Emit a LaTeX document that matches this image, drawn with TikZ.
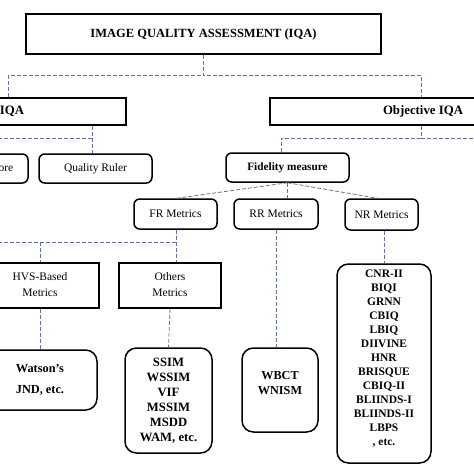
\documentclass[tikz,border=0pt]{standalone}
\usepackage{fontspec}
\setmainfont{Liberation Serif}
\usepackage{tikz}
\usetikzlibrary{positioning,calc}
\definecolor{linkblue}{RGB}{95,115,155}

\begin{document}
\begin{tikzpicture}[x=1pt, y=-1pt,
 box/.style={draw, line width=1.5pt, inner sep=0pt, font=\fontsize{11.5}{14}\selectfont},
 rbox/.style={box, rounded corners=2mm},
 listbox/.style={box, rounded corners=4mm},
 link/.style={line width=0.8pt, draw=linkblue, dash pattern=on 4pt off 2pt}]
\useasboundingbox (0,0) rectangle (474,474);
\clip (0,0) rectangle (474,474);
\node[box, minimum width=355pt, minimum height=40pt, font=\fontsize{12.5}{15}\selectfont\bfseries] (iqa) at (203.5,34) {IMAGE QUALITY ASSESSMENT (IQA)};
\node[box, minimum width=228pt, minimum height=27pt, font=\fontsize{12.8}{15}\selectfont\bfseries] (subj) at (12,111.5) {IQA};
\node[box, minimum width=306pt, minimum height=27pt, font=\fontsize{12.8}{15}\selectfont\bfseries] (obj) at (423,111.5) {Objective IQA};
\node[rbox, minimum width=44pt, minimum height=29pt] (score) at (6,168.5) {ore};
\node[rbox, minimum width=113pt, minimum height=29pt] (ruler) at (95.5,168.5) {Quality Ruler};
\node[rbox, minimum width=123pt, minimum height=29pt, font=\fontsize{11.3}{14}\selectfont\bfseries] (fid) at (287.5,167.5) {Fidelity measure};
\node[rbox, minimum width=83pt, minimum height=30pt] (fr) at (175.5,214) {FR Metrics};
\node[rbox, minimum width=84pt, minimum height=30pt] (rr) at (276,214) {RR Metrics};
\node[rbox, minimum width=73pt, minimum height=31pt] (nr) at (381.5,214.5) {NR Metrics};
\node[box, minimum width=118pt, minimum height=45pt] (hvs) at (40,285.5) {\begin{tabular}{c} HVS-Based\\[2pt] Metrics \end{tabular}};
\node[box, minimum width=102pt, minimum height=45pt] (oth) at (170,285.5) {\begin{tabular}{c} Others\\[2pt] Metrics \end{tabular}};
\node[listbox, minimum width=114pt, minimum height=60pt, font=\fontsize{12.3}{15}\selectfont\bfseries] (wat) at (40,380) {\begin{tabular}{c} Watson's\\[6pt] JND, etc. \end{tabular}};
\node[listbox, minimum width=87pt, minimum height=105pt, font=\fontsize{12.7}{15}\selectfont\bfseries] (ssim) at (168.5,400.5) {\begin{tabular}{c} SSIM\\ WSSIM\\ VIF\\ MSSIM\\ MSDD\\ WAM, etc. \end{tabular}};
\node[listbox, minimum width=76pt, minimum height=84pt, font=\fontsize{12.2}{15}\selectfont\bfseries] (wbct) at (280,390) {\begin{tabular}{c} WBCT\\ WNISM\\[12pt] \end{tabular}};
\node[listbox, minimum width=94pt, minimum height=199pt, font=\fontsize{11.5}{14}\selectfont\bfseries] (nrl) at (384,363.5) {\begin{tabular}{c} CNR-II\\ BIQI\\ GRNN\\ CBIQ\\ LBIQ\\ DIIVINE\\ HNR\\ BRISQUE\\ CBIQ-II\\ BLIINDS-I\\ BLIINDS-II\\ LBPS\\ , etc.\\[9pt] \end{tabular}};
% top level
\draw[link] (iqa.south) -- ++(0,21) -| ([xshift=-4pt]subj.north);
\draw[link] (iqa.south) -- ++(0,21) -| ([xshift=-2pt]obj.north);
% subjective side
\coordinate (sj) at (92,138);
\draw[link] (subj.south -| sj) -- (ruler.north -| sj);
\draw[link] (sj) -| ([xshift=-20pt]score.north);
% objective side
\coordinate (oj) at (421,138);
\coordinate (ojr) at (480,138);
\draw[link] (obj.south -| oj) -- (oj) -| ([xshift=-6pt]fid.north);
\draw[link] (oj) -- (ojr);
\draw[link] (fid.south) -- ([xshift=1.5pt]fr.north);
\draw[link] (fid.south) -- (fid.south |- rr.north);
\draw[link] (fid.south) -- ([xshift=-4pt]nr.north);
% FR metrics
\coordinate (fj) at (176,242);
\coordinate (fjl) at (-10,242);
\draw[link] (fr.south -| fj) -- (oth.north -| fj);
\draw[link] (fj) -- (fjl);
\draw[link] (hvs.north |- fj) -- (hvs.north);
% leaves
\draw[link] (hvs.south) -- (wat.north);
\draw[link] (oth.south) -- (ssim.north);
\draw[link] (rr.south) -- (rr.south |- wbct.north);
\draw[link] (nrl.north |- nr.south) -- (nrl.north);
\end{tikzpicture}
\end{document}
